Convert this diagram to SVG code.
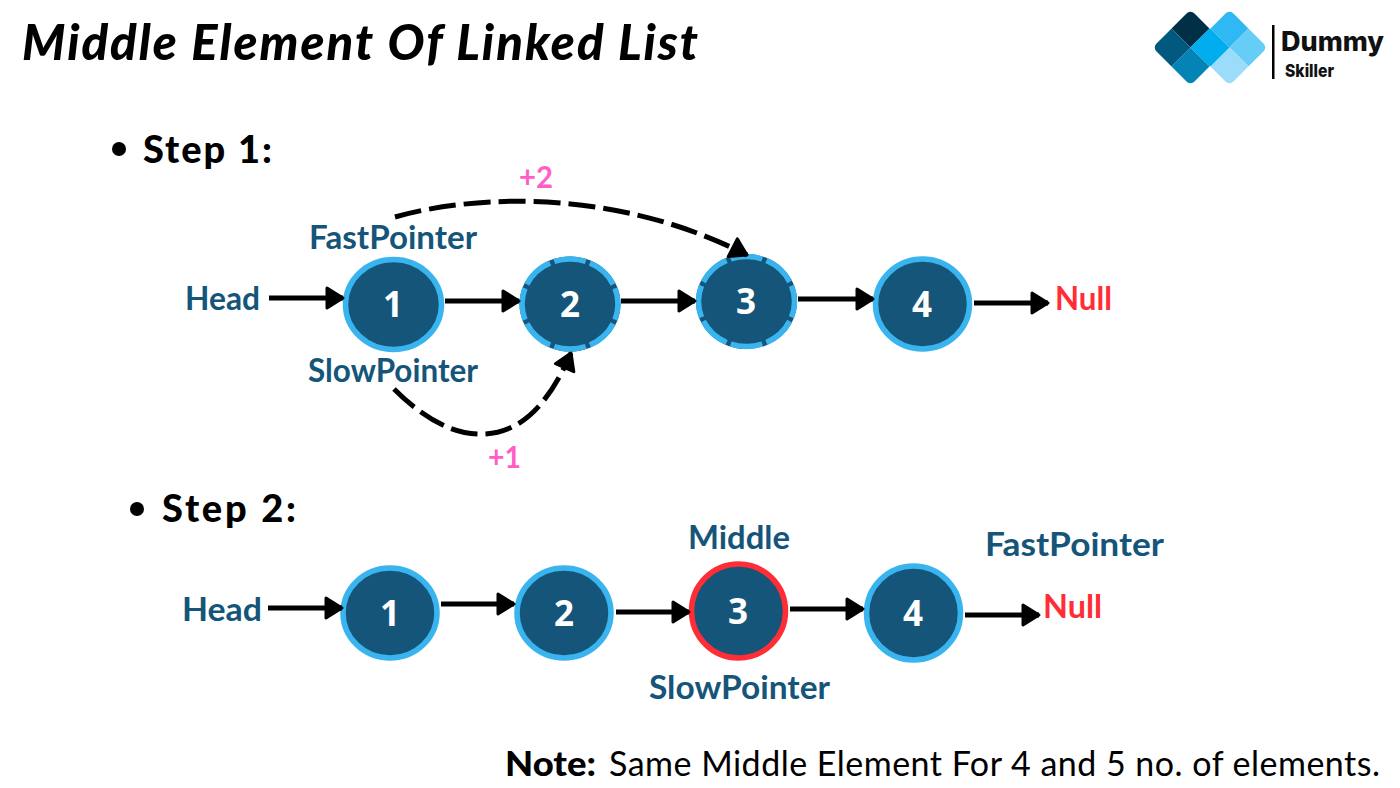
<svg xmlns="http://www.w3.org/2000/svg" width="1400" height="788" viewBox="0 0 1400 788">
<style>
.lbl{font-family:"Lato","Noto Sans",sans-serif;font-size:32px;font-weight:700;fill:#15557a}
.red{fill:#ff2e36}
.pink{font-family:"Lato","Noto Sans",sans-serif;font-size:30px;font-weight:700;fill:#ff5ec4}
.step{font-family:"Lato","Noto Sans",sans-serif;font-size:38px;font-weight:900;fill:#000}
.note{font-family:"Lato","Noto Sans",sans-serif;font-size:34px;fill:#000}
.num{font-family:"Open Sans","Noto Sans",sans-serif;font-size:35px;font-weight:700;fill:#fff;text-anchor:middle}
.body{fill:#15557a;stroke:#3ab4ee;stroke-width:5.5}
.dash{fill:none;stroke:#3ab4ee;stroke-width:5.5;stroke-dasharray:.88 .12;stroke-dashoffset:.44}
.plain{fill:#15557a}
.mid{stroke:#ff2e36}
.a{fill:none;stroke:#000;stroke-width:5;marker-end:url(#h)}
.d{fill:none;stroke:#000;stroke-width:5;stroke-dasharray:27 8;marker-end:url(#h)}
</style>
<defs>
<marker id="h" markerUnits="userSpaceOnUse" markerWidth="24" markerHeight="28" refX="19" refY="13" orient="auto"><path d="M3 3L19 13L3 23Z" fill="#000" stroke="#000" stroke-width="3" stroke-linejoin="round"/></marker>
<clipPath id="sq"><rect x="-27" y="-27" width="54" height="54" rx="6"/></clipPath>
</defs>
<rect width="1400" height="788" fill="#fff"/>
<text x="22" y="60" textLength="676" lengthAdjust="spacing" style="font-family:'Lato','Noto Sans',sans-serif;font-size:49px;font-weight:900;font-style:italic" fill="#000">Middle Element Of Linked List</text>
<g id="logo">
<g transform="translate(1229.500 47.500) rotate(45)" clip-path="url(#sq)"><rect x="-27" y="-27" width="27" height="27" fill="#2fb8f2"/><rect x="0" y="-27" width="27" height="27" fill="#66cdf6"/><rect x="0" y="0" width="27" height="27" fill="#9adcf9"/><rect x="-27" y="0" width="27" height="27" fill="#00aeef"/></g>
<g transform="translate(1190.500 47.500) rotate(45)" clip-path="url(#sq)"><rect x="-27" y="-27" width="27" height="27" fill="#012f45"/><rect x="0" y="-27" width="27" height="27" fill="#00aeef"/><rect x="0" y="0" width="27" height="27" fill="#0484b5"/><rect x="-27" y="0" width="27" height="27" fill="#02597f"/></g>
<rect x="1272" y="25" width="2.500" height="54" fill="#000"/>
<text x="1281" y="51" textLength="103" lengthAdjust="spacingAndGlyphs" style="font-family:'Inter','Liberation Sans',sans-serif;font-size:27px;font-weight:800" fill="#111">Dummy</text>
<text x="1285" y="77" textLength="49" lengthAdjust="spacingAndGlyphs" style="font-family:'Inter','Liberation Sans',sans-serif;font-size:18px;font-weight:800" fill="#111">Skiller</text>
</g>
<g id="step1-heading"><circle cx="119" cy="149" r="7" fill="#000"/><text class="step" x="143" y="163" textLength="129" lengthAdjust="spacing">Step 1:</text></g>
<g id="step2-heading"><circle cx="137" cy="509" r="7" fill="#000"/><text class="step" x="162" y="522" textLength="134" lengthAdjust="spacing">Step 2:</text></g>
<g id="s1-n1"><ellipse class="body" cx="393.500" cy="304.500" rx="48" ry="45"/><text class="num" x="393" y="317">1</text></g>
<g id="s1-n2"><ellipse class="plain" cx="570" cy="304" rx="50.500" ry="47.500"/><ellipse class="dash" pathLength="8" cx="570" cy="304" rx="48" ry="45"/><text class="num" x="570" y="317">2</text></g>
<g id="s1-n3"><ellipse class="plain" cx="746.500" cy="301.500" rx="50.500" ry="47.500"/><ellipse class="dash" pathLength="8" cx="746.500" cy="301.500" rx="48" ry="45"/><text class="num" x="746" y="314">3</text></g>
<g id="s1-n4"><ellipse class="body" cx="922.500" cy="304" rx="47" ry="45"/><text class="num" x="922" y="317">4</text></g>
<g id="s2-n1"><ellipse class="body" cx="390" cy="613" rx="47" ry="45"/><text class="num" x="390" y="626">1</text></g>
<g id="s2-n2"><ellipse class="body" cx="564" cy="613" rx="47" ry="45"/><text class="num" x="564" y="626">2</text></g>
<g id="s2-n3"><ellipse class="body mid" cx="738.500" cy="611" rx="47" ry="47"/><text class="num" x="738" y="624">3</text></g>
<g id="s2-n4"><ellipse class="body" cx="913.500" cy="613" rx="47" ry="47"/><text class="num" x="913" y="626">4</text></g>
<g id="connectors">
<path class="a" d="M269 298H343"/><path class="a" d="M445 301H519"/><path class="a" d="M621 301H695"/><path class="a" d="M798 299H873"/><path class="a" d="M974 303H1048"/>
<path class="d" d="M395 217C480 193 620 190 747 255"/>
<path class="d" d="M394 389C430 425 470 445 510 428C535 417 555 390 571 353"/>
<path class="a" d="M268 608H342"/><path class="a" d="M441 604H514"/><path class="a" d="M616 612H689"/><path class="a" d="M790 609H863"/><path class="a" d="M965 615H1039"/>
</g>
<g id="labels">
<text class="lbl" x="309" y="249" textLength="168" lengthAdjust="spacingAndGlyphs">FastPointer</text>
<text class="lbl" x="185" y="310" textLength="75" lengthAdjust="spacingAndGlyphs">Head</text>
<text class="lbl" x="308" y="382" textLength="170" lengthAdjust="spacingAndGlyphs">SlowPointer</text>
<text class="pink" x="519" y="188" textLength="34" lengthAdjust="spacingAndGlyphs">+2</text>
<text class="pink" x="488" y="468" textLength="33" lengthAdjust="spacingAndGlyphs">+1</text>
<text class="lbl red" x="1055" y="310" textLength="57" lengthAdjust="spacingAndGlyphs">Null</text>
<text class="lbl" x="182" y="621" textLength="80" lengthAdjust="spacingAndGlyphs">Head</text>
<text class="lbl" x="688" y="549" textLength="102" lengthAdjust="spacingAndGlyphs">Middle</text>
<text class="lbl" x="985" y="556" textLength="179" lengthAdjust="spacingAndGlyphs">FastPointer</text>
<text class="lbl red" x="1043" y="618" textLength="59" lengthAdjust="spacingAndGlyphs">Null</text>
<text class="lbl" x="649" y="699" textLength="181" lengthAdjust="spacingAndGlyphs">SlowPointer</text>
<text class="note" x="505" y="776" textLength="91" lengthAdjust="spacingAndGlyphs" font-weight="900">Note:</text>
<text class="note" x="609" y="776" textLength="771" lengthAdjust="spacing">Same Middle Element For 4 and 5 no. of elements.</text>
</g>
</svg>
